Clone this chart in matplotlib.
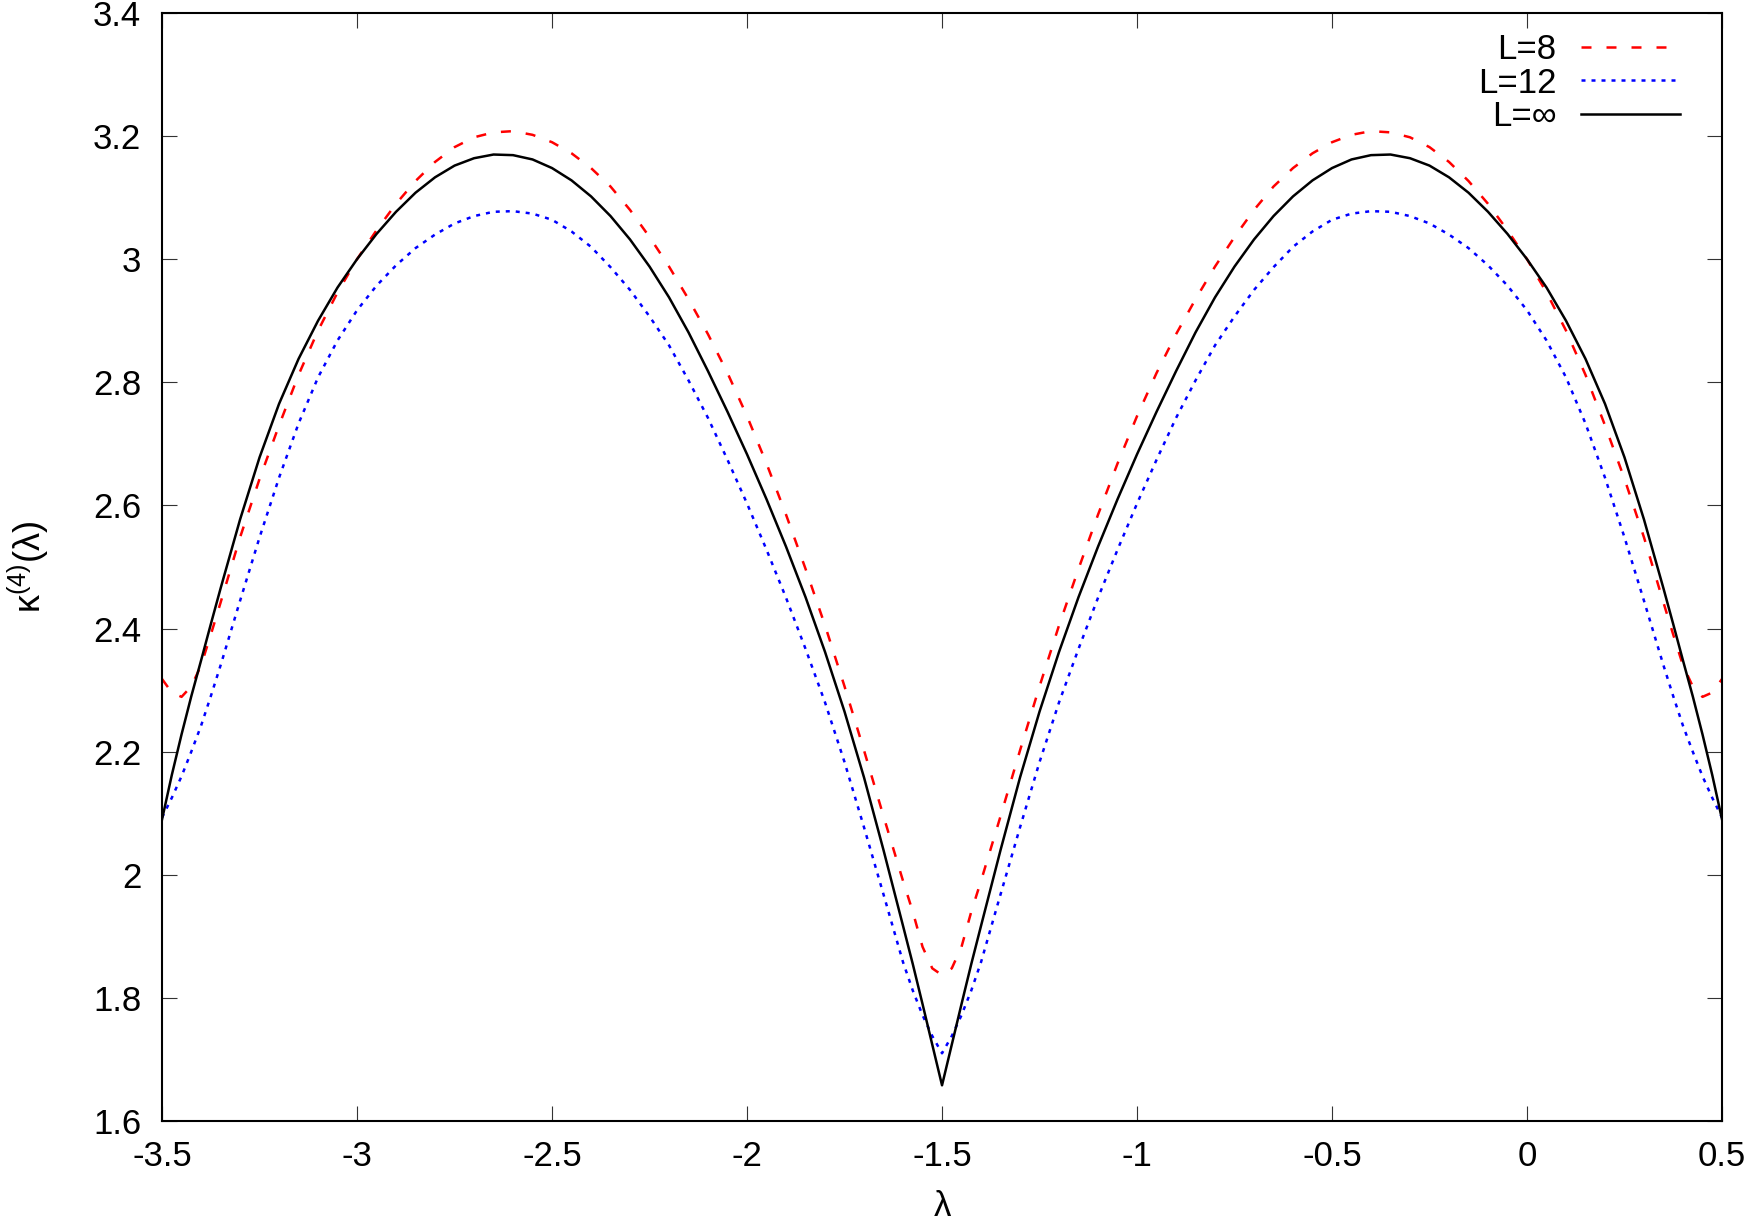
import matplotlib
matplotlib.use('Agg')
import matplotlib.pyplot as plt
from matplotlib.ticker import FuncFormatter, MultipleLocator

# lambda values (finer spacing near the edges and the cusp)
lam = [-3.5, -3.475, -3.45, -3.425, -3.4, -3.375, -3.35, -3.3, -3.25, -3.2,
       -3.15, -3.1, -3.05, -3.0, -2.95, -2.9, -2.85, -2.8, -2.75, -2.7,
       -2.65, -2.6, -2.55, -2.5, -2.45, -2.4, -2.35, -2.3, -2.25, -2.2,
       -2.15, -2.1, -2.05, -2.0, -1.95, -1.9, -1.85, -1.8, -1.75, -1.7,
       -1.65, -1.6, -1.575, -1.55, -1.525, -1.5,
       -1.475, -1.45, -1.425, -1.4, -1.35, -1.3, -1.25, -1.2, -1.15, -1.1,
       -1.05, -1.0, -0.95, -0.9, -0.85, -0.8, -0.75, -0.7, -0.65, -0.6,
       -0.55, -0.5, -0.45, -0.4, -0.35, -0.3, -0.25, -0.2, -0.15, -0.1,
       -0.05, 0.0, 0.05, 0.1, 0.15, 0.2, 0.25, 0.3, 0.35, 0.375,
       0.4, 0.425, 0.45, 0.475, 0.5]

kappa_L8 = [2.318, 2.296, 2.289, 2.306, 2.340, 2.390, 2.442, 2.548, 2.643, 2.730,
            2.812, 2.884, 2.946, 3.000, 3.047, 3.090, 3.127, 3.158, 3.182, 3.198,
            3.206, 3.208, 3.202, 3.190, 3.172, 3.148, 3.118, 3.080, 3.036, 2.988,
            2.935, 2.878, 2.815, 2.745, 2.668, 2.585, 2.497, 2.405, 2.306, 2.202,
            2.095, 1.990, 1.940, 1.883, 1.848, 1.837,
            1.848, 1.883, 1.940, 1.990, 2.095, 2.202, 2.306, 2.405, 2.497, 2.585,
            2.668, 2.745, 2.815, 2.878, 2.935, 2.988, 3.036, 3.080, 3.118, 3.148,
            3.172, 3.190, 3.202, 3.208, 3.206, 3.198, 3.182, 3.158, 3.127, 3.090,
            3.047, 3.000, 2.946, 2.884, 2.812, 2.730, 2.643, 2.548, 2.442, 2.390,
            2.340, 2.306, 2.289, 2.296, 2.318]

kappa_L12 = [2.093, 2.125, 2.160, 2.200, 2.242, 2.290, 2.340, 2.445, 2.548, 2.645,
             2.733, 2.808, 2.868, 2.917, 2.957, 2.990, 3.018, 3.040, 3.058, 3.070,
             3.077, 3.078, 3.074, 3.064, 3.045, 3.020, 2.987, 2.950, 2.907, 2.860,
             2.803, 2.742, 2.674, 2.603, 2.528, 2.450, 2.367, 2.280, 2.183, 2.077,
             1.968, 1.858, 1.812, 1.772, 1.738, 1.710,
             1.738, 1.772, 1.812, 1.858, 1.968, 2.077, 2.183, 2.280, 2.367, 2.450,
             2.528, 2.603, 2.674, 2.742, 2.803, 2.860, 2.907, 2.950, 2.987, 3.020,
             3.045, 3.064, 3.074, 3.078, 3.077, 3.070, 3.058, 3.040, 3.018, 2.990,
             2.957, 2.917, 2.868, 2.808, 2.733, 2.645, 2.548, 2.445, 2.340, 2.290,
             2.242, 2.200, 2.160, 2.125, 2.093]

kappa_inf = [2.090, 2.162, 2.228, 2.290, 2.348, 2.407, 2.465, 2.577, 2.678, 2.765,
             2.838, 2.900, 2.954, 3.000, 3.041, 3.077, 3.108, 3.133, 3.152, 3.164,
             3.170, 3.169, 3.162, 3.148, 3.128, 3.102, 3.070, 3.032, 2.988, 2.938,
             2.881, 2.818, 2.752, 2.683, 2.610, 2.533, 2.451, 2.362, 2.265, 2.158,
             2.040, 1.917, 1.855, 1.790, 1.724, 1.658,
             1.724, 1.790, 1.855, 1.917, 2.040, 2.158, 2.265, 2.362, 2.451, 2.533,
             2.610, 2.683, 2.752, 2.818, 2.881, 2.938, 2.988, 3.032, 3.070, 3.102,
             3.128, 3.148, 3.162, 3.169, 3.170, 3.164, 3.152, 3.133, 3.108, 3.077,
             3.041, 3.000, 2.954, 2.900, 2.838, 2.765, 2.678, 2.577, 2.465, 2.407,
             2.348, 2.290, 2.228, 2.162, 2.090]

labels = ['L=8', 'L=12', 'L=∞']

plt.rcParams['font.family'] = ['Liberation Sans', 'DejaVu Sans']
plt.rcParams['mathtext.fontset'] = 'custom'
plt.rcParams['mathtext.rm'] = 'Liberation Sans'
plt.rcParams['mathtext.it'] = 'Liberation Sans'

fs = 25

fig = plt.figure(figsize=(17.5, 12.21), dpi=100)
ax = fig.add_axes([0.0926, 0.0819, 0.8914, 0.9075])

lw = 1.8
ax.plot(lam, kappa_L8, color='#ff0000', lw=lw, dashes=(4, 6), label=labels[0])
ax.plot(lam, kappa_L12, color='#0000ff', lw=lw, dashes=(1.6, 2.4), label=labels[1])
ax.plot(lam, kappa_inf, color='black', lw=lw, label=labels[2])

ax.set_xlim(-3.5, 0.5)
ax.set_ylim(1.6, 3.4)
ax.xaxis.set_major_locator(MultipleLocator(0.5))
ax.yaxis.set_major_locator(MultipleLocator(0.2))
fmt = FuncFormatter(lambda v, p: '%g' % round(v, 3))
ax.xaxis.set_major_formatter(fmt)
ax.yaxis.set_major_formatter(fmt)

ax.tick_params(direction='in', length=11, width=0.8, labelsize=fs,
               top=True, right=True, color='#333333')
ax.tick_params(axis='y', pad=15)
ax.tick_params(axis='x', pad=14)
for s in ax.spines.values():
    s.set_linewidth(1.5)

ax.set_xlabel('λ', fontsize=fs)
ax.set_ylabel(r'$\mathregular{κ^{(4)}(λ)}$', fontsize=26)
ax.xaxis.set_label_coords(0.5, -0.062)
ax.yaxis.set_label_coords(-0.071, 0.5)

leg = ax.legend(loc='upper right', bbox_to_anchor=(0.973, 0.982), frameon=False,
                markerfirst=False, fontsize=fs, handlelength=2.85,
                handletextpad=0.7, labelspacing=0.02, borderpad=0, borderaxespad=0)

fig.savefig('out.png', dpi=100)
